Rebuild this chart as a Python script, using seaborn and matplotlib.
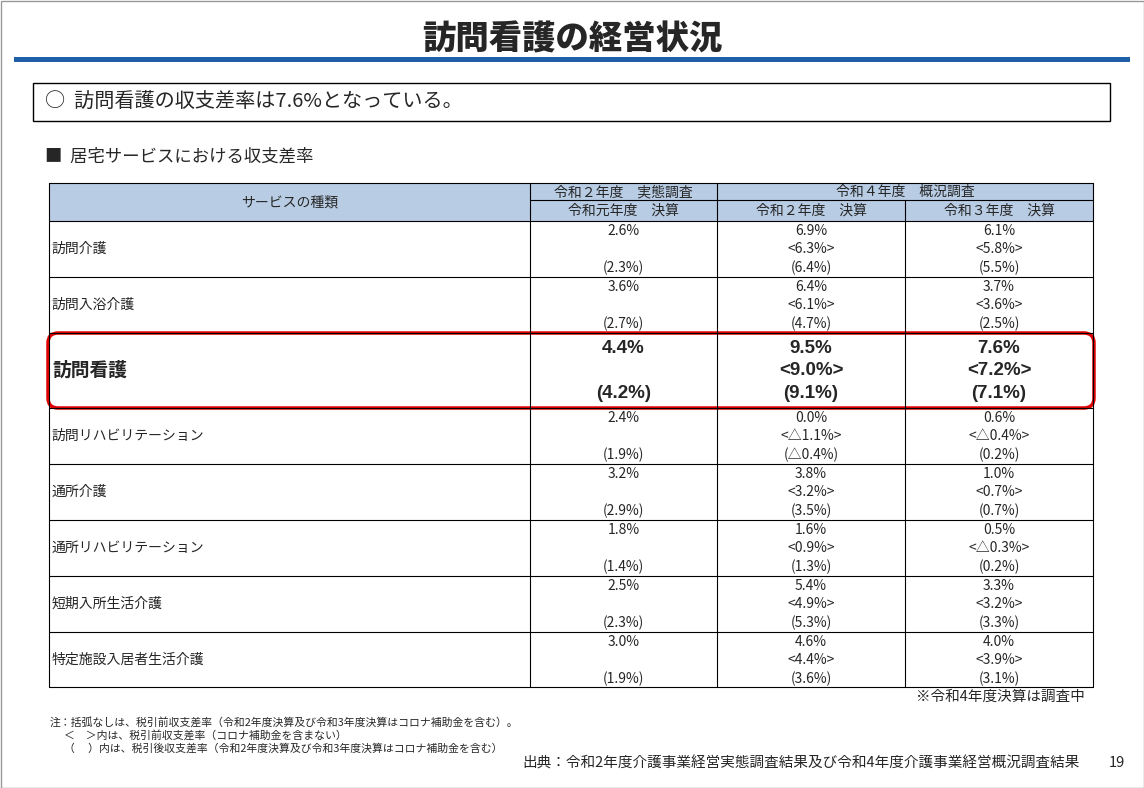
import matplotlib
matplotlib.use("Agg")
import matplotlib.pyplot as plt
import seaborn as sns
from matplotlib.patches import Rectangle, FancyBboxPatch

sns.set_theme(style="white")
plt.rcParams["font.family"] = "Noto Sans CJK JP"

services = ["訪問介護", "訪問入浴介護", "訪問看護", "訪問リハビリテーション", "通所介護",
            "通所リハビリテーション", "短期入所生活介護", "特定施設入居者生活介護"]
r1_main = ["2.6%", "3.6%", "4.4%", "2.4%", "3.2%", "1.8%", "2.5%", "3.0%"]
r1_after = ["(2.3%)", "(2.7%)", "(4.2%)", "(1.9%)", "(2.9%)", "(1.4%)", "(2.3%)", "(1.9%)"]
r2_main = ["6.9%", "6.4%", "9.5%", "0.0%", "3.8%", "1.6%", "5.4%", "4.6%"]
r2_excl = ["<6.3%>", "<6.1%>", "<9.0%>", "<△1.1%>", "<3.2%>", "<0.9%>", "<4.9%>", "<4.4%>"]
r2_after = ["(6.4%)", "(4.7%)", "(9.1%)", "(△0.4%)", "(3.5%)", "(1.3%)", "(5.3%)", "(3.6%)"]
r3_main = ["6.1%", "3.7%", "7.6%", "0.6%", "1.0%", "0.5%", "3.3%", "4.0%"]
r3_excl = ["<5.8%>", "<3.6%>", "<7.2%>", "<△0.4%>", "<0.7%>", "<△0.3%>", "<3.2%>", "<3.9%>"]
r3_after = ["(5.5%)", "(2.5%)", "(7.1%)", "(0.2%)", "(0.7%)", "(0.2%)", "(3.3%)", "(3.1%)"]
highlight = "訪問看護"

fig = plt.figure(figsize=(11.44, 7.88), dpi=100)
ax = fig.add_axes([0, 0, 1, 1])
ax.set_xlim(0, 1144); ax.set_ylim(788, 0); ax.axis("off")

ax.add_patch(Rectangle((0.5, 0.5), 1143, 787, fill=False, ec="#999999", lw=1))
ax.text(572, 39, "訪問看護の経営状況", ha="center", va="center", fontsize=24, fontweight="black")
ax.add_patch(Rectangle((14, 57), 1116, 5, color="#1f5fa8", lw=0))
ax.add_patch(Rectangle((33, 83), 1077, 38, fill=False, ec="black", lw=1))
ax.text(45, 102, "○  訪問看護の収支差率は7.6%となっている。", va="center", fontsize=14.5)
ax.text(45, 157, "■  居宅サービスにおける収支差率", va="center", fontsize=12.5)

L, C1, C2, C3, R = 49, 530, 717, 905, 1093
hdr_fill = "#b8cce4"
ax.add_patch(Rectangle((L, 183), R - L, 38, color=hdr_fill, lw=0))
ax.text((L + C1) / 2, 202, "サービスの種類", ha="center", va="center", fontsize=10)
ax.text((C1 + C2) / 2, 192, "令和２年度　実態調査", ha="center", va="center", fontsize=10)
ax.text((C1 + C2) / 2, 211, "令和元年度　決算", ha="center", va="center", fontsize=10)
ax.text((C2 + R) / 2, 192, "令和４年度　概況調査", ha="center", va="center", fontsize=10)
ax.text((C2 + C3) / 2, 211, "令和２年度　決算", ha="center", va="center", fontsize=10)
ax.text((C3 + R) / 2, 211, "令和３年度　決算", ha="center", va="center", fontsize=10)

lw = 0.8
tops = [221]
for s in services:
    tops.append(tops[-1] + (75 if s == highlight else 56))
tops[-1] = 687
ax.plot([L, R, R, L, L], [183, 183, 687, 687, 183], color="black", lw=lw)
ax.plot([C1, R], [200, 200], color="black", lw=lw)
ax.plot([C3, C3], [200, 687], color="black", lw=lw)
for x in (C1, C2):
    ax.plot([x, x], [183, 687], color="black", lw=lw)
for y in tops[:-1]:
    ax.plot([L, R], [y, y], color="black", lw=lw)

for i, s in enumerate(services):
    t, b = tops[i], tops[i + 1]
    big = s == highlight
    fs = 13.5 if big else 10
    fw = "bold" if big else "normal"
    h = b - t
    ys = (t + 0.2 * h, t + 0.5 * h, t + 0.81 * h) if big else (t + 10, t + 28, t + 47)
    ax.text(L + 3, (t + b) / 2, s, va="center", fontsize=fs, fontweight=fw)
    cols = [((C1 + C2) / 2, r1_main[i], None, r1_after[i]),
            ((C2 + C3) / 2, r2_main[i], r2_excl[i], r2_after[i]),
            ((C3 + R) / 2, r3_main[i], r3_excl[i], r3_after[i])]
    for xc, m, e, a in cols:
        for y, v in zip(ys, (m, e, a)):
            if v:
                ax.text(xc, y, v, ha="center", va="center", fontsize=fs, fontweight=fw,
                        family="Liberation Sans" if big else None)
    if big:
        ax.add_patch(FancyBboxPatch((L - 1, t), R - L + 2, h,
                                    boxstyle="round,pad=0,rounding_size=10",
                                    fill=False, ec="#e00000", lw=2.5))

ax.text(1085, 697, "※令和4年度決算は調査中", ha="right", va="center", fontsize=10.5)
ax.text(50, 722, "注：括弧なしは、税引前収支差率（令和2年度決算及び令和3年度決算はコロナ補助金を含む）。", va="center", fontsize=7.8)
ax.text(64, 735, "＜　＞内は、税引前収支差率（コロナ補助金を含まない）", va="center", fontsize=7.8)
ax.text(64, 748, "（　 ）内は、税引後収支差率（令和2年度決算及び令和3年度決算はコロナ補助金を含む）", va="center", fontsize=7.8)
ax.text(1080, 763, "出典：令和2年度介護事業経営実態調査結果及び令和4年度介護事業経営概況調査結果", ha="right", va="center", fontsize=10.5)
ax.text(1125, 763, "19", ha="right", va="center", fontsize=10.5)

fig.savefig("out.png", dpi=100)
